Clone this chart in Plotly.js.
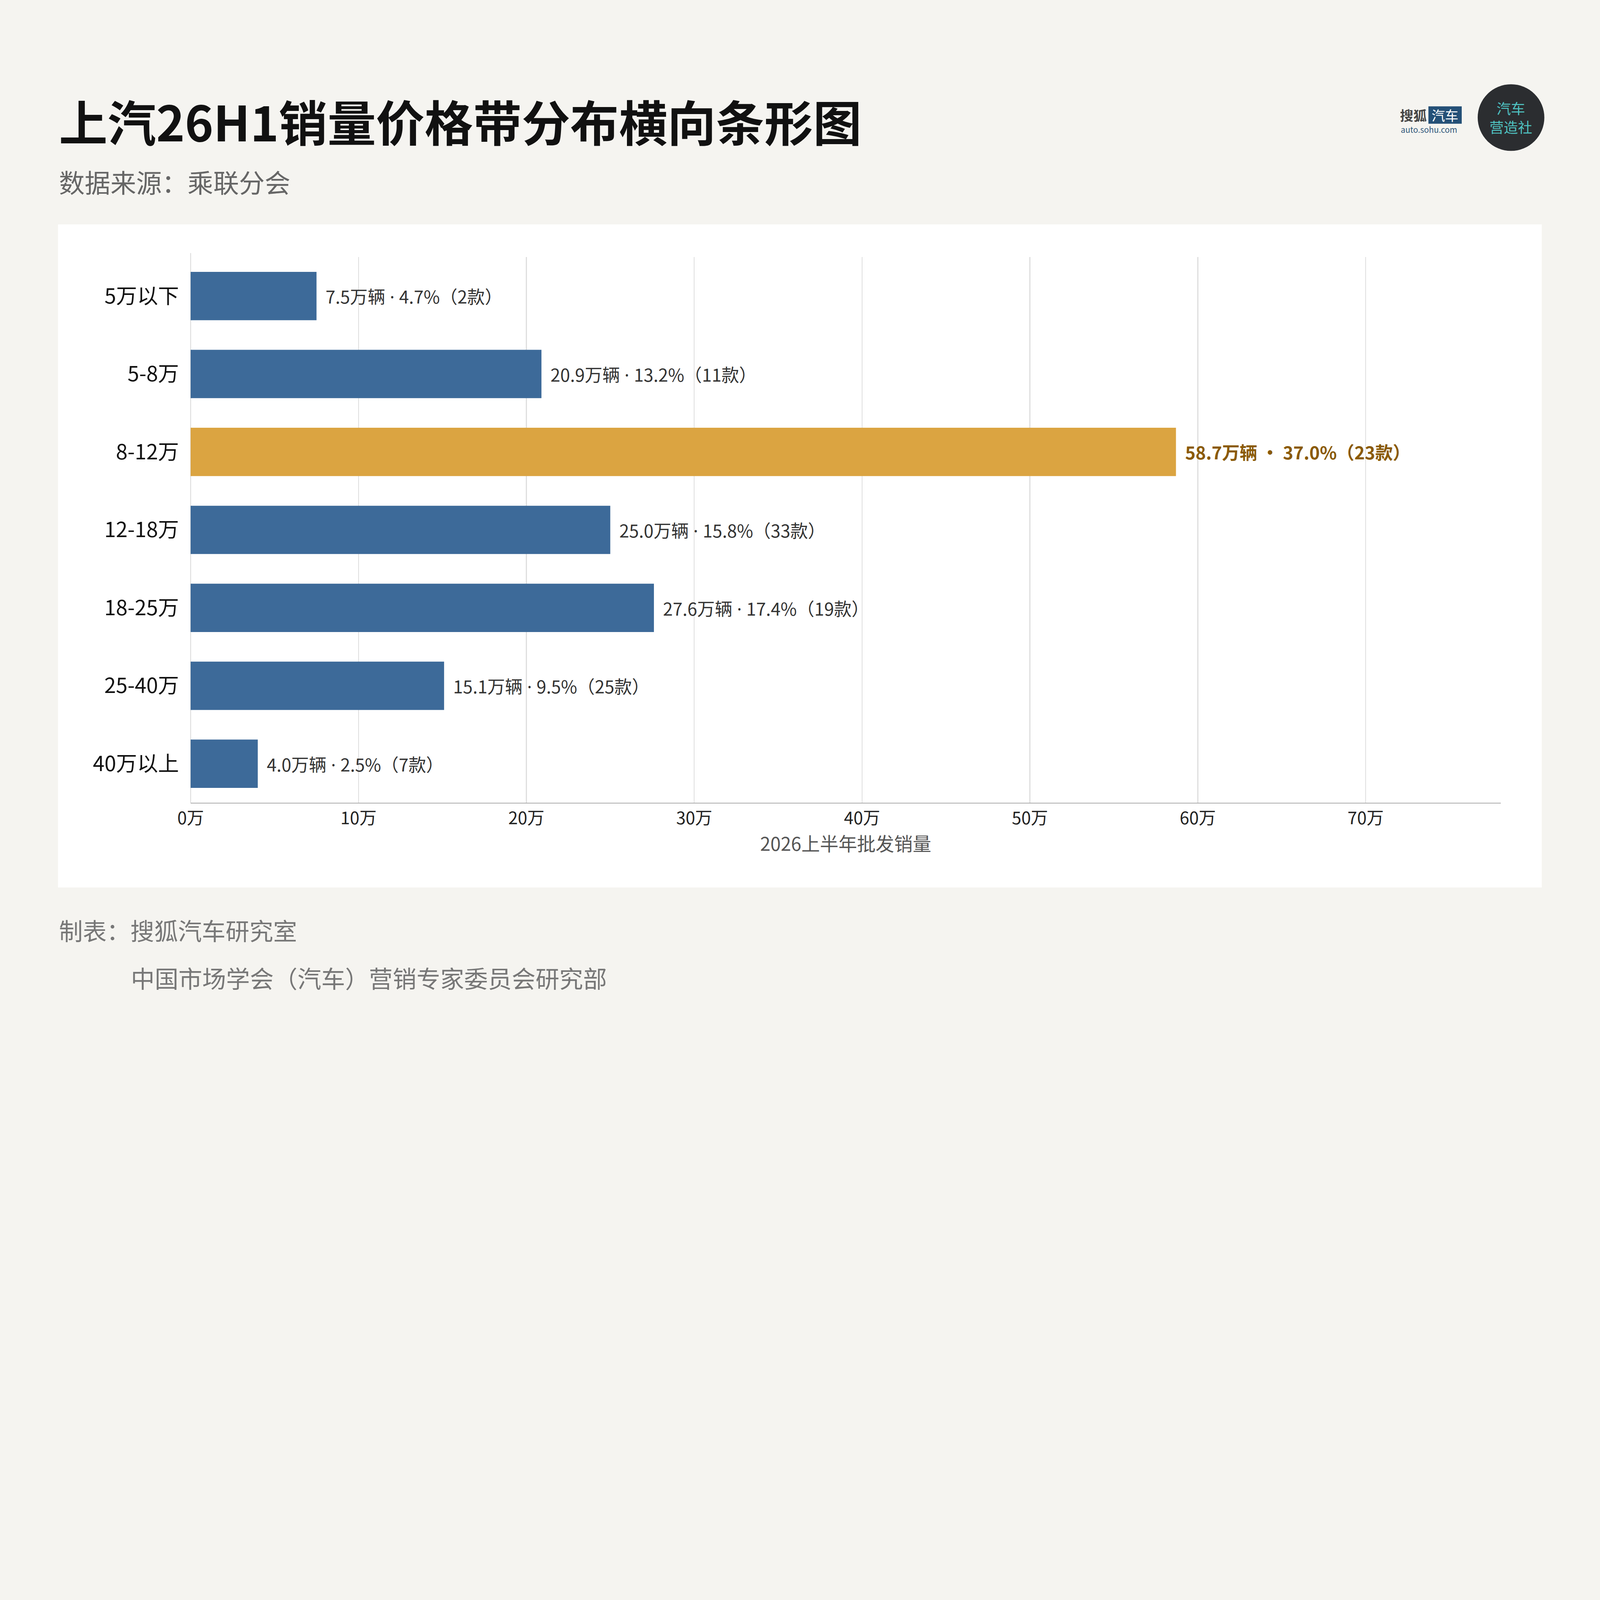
<!DOCTYPE html>
<html><head><meta charset="utf-8">
<script src="https://cdn.plot.ly/plotly-3.0.1.min.js"></script>
<style>html,body{margin:0;padding:0;overflow:hidden;background:#f5f4f0}</style></head>
<body><div id="chart"></div>
<script>
var categories = ['5万以下', '5-8万', '8-12万', '12-18万', '18-25万', '25-40万', '40万以上'];
var sales = [7.5, 20.9, 58.7, 25.0, 27.6, 15.1, 4.0];
var shares = [4.7, 13.2, 37.0, 15.8, 17.4, 9.5, 2.5];
var models = [2, 11, 23, 33, 19, 25, 7];
var tickVals = [0, 10, 20, 30, 40, 50, 60, 70];
var tickText = ['0万', '10万', '20万', '30万', '40万', '50万', '60万', '70万'];
var highlight = '8-12万';

// design is in 6720x4629 units, scaled to the actual window
var W0 = 6720, H0 = 4629;
var S = Math.min(window.innerWidth / W0, window.innerHeight / H0);
function s(v) { return v * S; }
var L = 801, R = 6304, T = 1080, B = 3373;
function px(x) { return (x - L) / (R - L); }
function py(y) { return (B - y) / (B - T); }
var FONT = '"Noto Sans CJK SC", "Noto Sans", sans-serif';

var labels = categories.map(function (c, i) {
  var sep = c === highlight ? ' • ' : '<span style="font-family:Noto Sans"> · </span>';
  return sales[i].toFixed(1) + '万辆' + sep + shares[i].toFixed(1) + '%（' + models[i] + '款）';
});

var data = [{
  type: 'bar',
  orientation: 'h',
  y: categories,
  x: sales,
  text: labels.map(function (t) { return '  ' + t; }),
  textposition: 'outside',
  cliponaxis: false,
  textfont: {
    family: FONT, size: s(74),
    color: categories.map(function (c) { return c === highlight ? '#8a5a06' : '#333333'; }),
    weight: categories.map(function (c) { return c === highlight ? 700 : 400; })
  },
  marker: { color: categories.map(function (c) { return c === highlight ? '#dba441' : '#3d6a99'; }) },
  hoverinfo: 'skip'
}];

var layout = {
  width: s(W0), height: s(H0),
  paper_bgcolor: '#f5f4f0', plot_bgcolor: 'rgba(0,0,0,0)',
  margin: { l: s(L), r: s(W0 - R), t: s(T), b: s(H0 - B), pad: 0 },
  showlegend: false,
  bargap: 0.38,
  font: { family: FONT },
  xaxis: {
    range: [0, 78.05], tickvals: tickVals, ticktext: tickText,
    tickfont: { size: s(72), color: '#222' },
    showgrid: true, gridcolor: '#dedede', gridwidth: s(4),
    showline: true, linecolor: '#aaaaaa', linewidth: s(4),
    zeroline: false, ticks: '', ticklen: 0,
    title: { text: '2026上半年批发销量', font: { size: s(78), color: '#555' }, standoff: s(10) }
  },
  yaxis: {
    autorange: 'reversed', tickfont: { size: s(88), color: '#111' },
    tickvals: categories, ticktext: categories.map(function (c) { return c + ' '; }),
    ticks: 'outside', ticklen: s(10), tickcolor: 'rgba(0,0,0,0)',
    showline: false, showgrid: false
  },
  shapes: [
    { type: 'rect', xref: 'paper', yref: 'paper', layer: 'below',
      x0: px(244), x1: px(6476), y0: py(3729), y1: py(943),
      fillcolor: '#ffffff', line: { width: 0 } },
    { type: 'line', xref: 'paper', yref: 'paper', layer: 'below',
      x0: 0, x1: 0, y0: 0, y1: py(1063), line: { color: '#dedede', width: s(4) } },
    { type: 'rect', xref: 'paper', yref: 'paper', layer: 'above',
      x0: px(6000), x1: px(6140), y0: py(520), y1: py(447),
      fillcolor: '#245077', line: { width: 0 } },
    { type: 'circle', xref: 'paper', yref: 'paper', layer: 'above',
      x0: px(6207), x1: px(6487), y0: py(634), y1: py(354),
      fillcolor: '#2b2d30', line: { width: 0 } }
  ],
  annotations: [
    { xref: 'paper', yref: 'paper', x: px(244), y: py(505), xanchor: 'left', yanchor: 'middle',
      text: '<b>上汽26H1销量价格带分布横向条形图</b>', showarrow: false,
      font: { size: s(204), color: '#111' } },
    { xref: 'paper', yref: 'paper', x: px(244), y: py(762), xanchor: 'left', yanchor: 'middle',
      text: '数据来源：乘联分会', showarrow: false, font: { size: s(108), color: '#666' } },
    { xref: 'paper', yref: 'paper', x: px(244), y: py(3908), xanchor: 'left', yanchor: 'middle',
      text: '制表：搜狐汽车研究室', showarrow: false, font: { size: s(100), color: '#777' } },
    { xref: 'paper', yref: 'paper', x: px(546), y: py(4108), xanchor: 'left', yanchor: 'middle',
      text: '中国市场学会（汽车）营销专家委员会研究部', showarrow: false, font: { size: s(100), color: '#777' } },
    { xref: 'paper', yref: 'paper', x: px(5995), y: py(483), xanchor: 'right', yanchor: 'middle',
      text: '<b>搜狐</b>', showarrow: false, font: { size: s(56), color: '#444' } },
    { xref: 'paper', yref: 'paper', x: px(6070), y: py(483), xanchor: 'center', yanchor: 'middle',
      text: '汽车', showarrow: false, font: { size: s(56), color: '#ffffff' } },
    { xref: 'paper', yref: 'paper', x: px(6003), y: py(543), xanchor: 'center', yanchor: 'middle',
      text: 'auto.sohu.com', showarrow: false, font: { size: s(34), color: '#2e5679' } },
    { xref: 'paper', yref: 'paper', x: px(6347), y: py(494), xanchor: 'center', yanchor: 'middle',
      text: '汽车<br>营造社', showarrow: false, align: 'center',
      font: { size: s(60), color: '#4fc1c0' } }
  ]
};

Plotly.newPlot('chart', data, layout, { staticPlot: true });
</script></body></html>
